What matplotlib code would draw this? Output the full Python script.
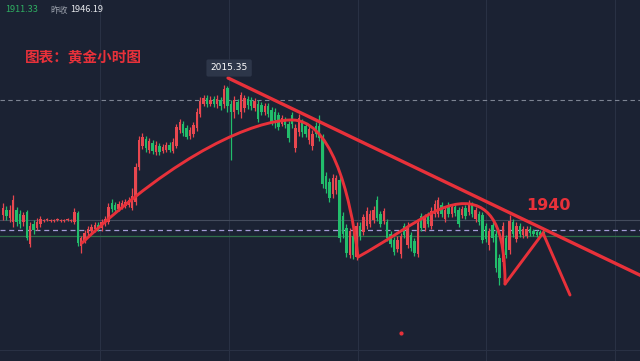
import matplotlib
matplotlib.use('Agg')
import matplotlib.pyplot as plt
from matplotlib.path import Path
from matplotlib.patches import PathPatch
import numpy as np

plt.rcParams['font.family'] = ['Noto Sans CJK SC', 'DejaVu Sans']

# ---------------- data (hourly gold candles) ----------------
opens = [1950.5, 1953, 1949, 1947, 1953, 1951, 1947, 1952, 1936, 1946, 1944, 1946,
         1947.5, 1948, 1947.5, 1947.5, 1948, 1947.5, 1947.5, 1948, 1947.5,
         1947, 1951.5, 1935, 1938, 1941.5, 1942.5, 1943.5, 1945.5, 1944, 1946,
         1947, 1956.5, 1955.5, 1953.5, 1954.5, 1955, 1955.5, 1954, 1957, 1974.5,
         1985, 1988.5, 1983, 1986.5, 1982, 1985, 1982.5, 1983, 1985.5, 1982.5,
         1985, 1993, 1996, 1994, 1990, 1991, 1994, 2001, 2006, 2009,
         2006, 2008.5, 2006, 2008, 2006, 2014, 2006, 2002, 2007, 2002,
         2004, 2008.5, 2008, 2004, 2006, 2005.5, 2002, 2005, 2003, 2002,
         2000.5, 1996, 1998, 1996, 2000.5, 1984, 1992, 1997, 1995, 1988,
         1985, 1995, 1995, 1989, 1970, 1967, 1961, 1963, 1968, 1950,
         1944, 1930.5, 1940, 1929.5, 1945, 1942, 1945, 1946, 1948, 1958,
         1951, 1947.5, 1947, 1941, 1938, 1933.5, 1931, 1945, 1935.5, 1940.5,
         1937.5, 1931, 1950, 1944, 1950.5, 1945, 1951, 1951, 1955.5, 1948.5,
         1955.5, 1951, 1954.5, 1953, 1950.5, 1954, 1952, 1955.5, 1948.5, 1951,
         1950.5, 1945, 1935.5, 1945.5, 1941, 1929, 1927, 1939, 1933, 1947,
         1938.5, 1945, 1940.5, 1940, 1943.5, 1942.5, 1942, 1942, 1941.5]
closes = [1954, 1950, 1953, 1958, 1947, 1946, 1950.5, 1939, 1945, 1943, 1947, 1948.5,
          1948, 1948.5, 1948, 1948, 1948.5, 1948, 1948, 1948.5, 1948,
          1952, 1936.5, 1939, 1941.5, 1943.5, 1944.5, 1945.5, 1944, 1947, 1948.5,
          1954.5, 1953.5, 1953, 1956, 1956.5, 1957, 1958, 1960, 1974.5, 1988,
          1989.5, 1984, 1987.5, 1982.5, 1985.5, 1982, 1984.5, 1985.5, 1983, 1987,
          1994.5, 1997, 1991.5, 1989.5, 1993, 1995.5, 2002, 2007.5, 2009, 2006,
          2008, 2006, 2008.5, 2005, 2013.5, 2005, 2002, 2008, 2003, 2010.5,
          2009, 2005.5, 2005, 2007.5, 1998.5, 2002, 2005, 2001, 1997, 1998,
          1994.5, 1999, 1995.5, 1989, 1996, 1994, 1999, 1992, 1991, 1993.5,
          1991, 1991, 1989, 1966, 1963.5, 1959, 1969, 1969, 1939, 1941,
          1931.5, 1942.5, 1930.5, 1945, 1940, 1949.5, 1952.5, 1951, 1953, 1949,
          1946, 1952.5, 1939, 1936, 1932, 1938, 1940, 1940.5, 1945, 1934,
          1931.5, 1946.5, 1944, 1949.5, 1946, 1952.5, 1956, 1958, 1951, 1953,
          1951, 1954.5, 1951.5, 1946, 1953.5, 1950, 1956, 1951, 1953, 1947,
          1938, 1938.5, 1942.5, 1939, 1924, 1919, 1945, 1930.5, 1947.5, 1941,
          1945, 1941, 1943.5, 1943.5, 1941.5, 1941, 1940.5, 1940.5, 1940]
highs = [1956.5, 1955, 1955.5, 1960.5, 1954.5, 1953, 1952, 1953, 1947, 1948, 1949, 1950,
         1948.5, 1949, 1948.5, 1948.5, 1949, 1948.5, 1948.5, 1949, 1948.5,
         1954, 1952.5, 1940, 1943, 1945, 1946, 1947, 1947, 1948.5, 1950,
         1956.5, 1958.5, 1957, 1957.5, 1958, 1958.5, 1959.5, 1964, 1976.5, 1990,
         1991.5, 1990, 1989, 1988, 1987.5, 1986.5, 1986, 1987, 1987, 1989,
         1996, 1998.5, 1997.5, 1995.5, 1994.5, 1997, 2004, 2009.5, 2010.5, 2010.5,
         2010, 2010, 2010.5, 2009.5, 2015.35, 2015, 2008, 2010, 2008.5, 2012,
         2010.5, 2010, 2009.5, 2009, 2008, 2007, 2006.5, 2006.5, 2004.5, 2004,
         2002, 2000.5, 1999.5, 1997.5, 2002, 1996, 2001, 1998.5, 1996.5, 1995.5,
         1993, 1997, 2000.5, 1991, 1972, 1969, 1971, 1970.5, 1970, 1952,
         1946, 1944, 1942, 1947, 1947, 1951, 1954.5, 1953, 1955, 1960,
         1952.5, 1954, 1948.5, 1942.5, 1939.5, 1940, 1941.5, 1946.5, 1947, 1942,
         1939, 1948.5, 1951.5, 1951, 1952, 1954.5, 1958, 1959.5, 1957, 1955,
         1957, 1956, 1956, 1954.5, 1955, 1955.5, 1958, 1957, 1954.5, 1952.5,
         1952, 1946.5, 1944, 1947, 1943, 1931, 1947, 1940.5, 1950.5, 1948.5,
         1947, 1946.5, 1945, 1945, 1945, 1943.5, 1943, 1943, 1942.5]
lows = [1948, 1948, 1947, 1944.5, 1945, 1944, 1945, 1938, 1934.5, 1941, 1943, 1944.5,
        1947, 1947.5, 1947, 1947, 1947.5, 1947, 1947, 1947.5, 1947,
        1946, 1935, 1931.5, 1936.5, 1940, 1941, 1942, 1942.5, 1942.5, 1945,
        1946, 1952, 1951.5, 1952.5, 1953.5, 1954, 1954.5, 1953, 1955.5, 1973,
        1983.5, 1982, 1981.5, 1981, 1980.5, 1980.5, 1981.5, 1982, 1982, 1981.5,
        1984, 1991.5, 1990, 1988.5, 1988.5, 1989.5, 1992.5, 1999.5, 2005, 2004.5,
        2005, 2004.5, 2004, 2003, 2004, 2002, 1978, 1999, 2001, 1999,
        2002, 2003.5, 2003, 2002.5, 1997, 2000.5, 2000.5, 1999.5, 1995.5, 1994,
        1993, 1995, 1994, 1987, 1994, 1982, 1990, 1989.5, 1989.5, 1986,
        1983, 1989.5, 1987.5, 1964, 1961.5, 1957, 1959, 1961, 1937, 1939,
        1929.5, 1929, 1928.5, 1928, 1938, 1940.5, 1943.5, 1944.5, 1946.5, 1947.5,
        1944.5, 1946, 1937.5, 1934.5, 1930.5, 1932, 1929, 1939, 1934, 1932.5,
        1930, 1929.5, 1942.5, 1942.5, 1944.5, 1943.5, 1949.5, 1949.5, 1949.5, 1947,
        1949.5, 1949.5, 1950, 1944.5, 1949, 1948.5, 1950.5, 1949.5, 1947, 1945.5,
        1936.5, 1937, 1933, 1937, 1922, 1915.5, 1925, 1929, 1931, 1939.5,
        1937, 1939.5, 1939, 1939, 1940, 1940, 1939.5, 1939.5, 1939.5]

# reference price lines
level_dashed_top = 2008
level_grey = 1948
level_dashed_cur = 1943
level_green = 1940
level_bottom = 1883

# vertical grid positions (candle index)
grid_x = [28.5, 66.5, 104.4, 142.1, 180.0]

# hand-drawn annotation points (candle index, price)
trend_x = [66.2, 188.8]
trend_p = [2019, 1919.25]
arc1_x = [23.24, 52.06, 74.12, 84.41, 96.18, 102.06, 104.41]
arc1_p = [1936.5, 1983, 1997.5, 1998, 1999, 1963, 1929.5]
arc2_x = [104.41, 119.71, 128.53, 137.35, 144.71, 147.65, 147.65]
arc2_p = [1929.5, 1944, 1958, 1956, 1954, 1940.5, 1916]
zig_x = [147.65, 158.82, 166.76]
zig_p = [1916, 1941.5, 1910.5]
dot_x, dot_p = 117, 1891.5

n = len(opens)
for name, arr in (('closes', closes), ('highs', highs), ('lows', lows)):
    if len(arr) != n:
        raise ValueError(f'{name} has {len(arr)} items, opens has {n}')

# ---------------- figure ----------------
BG = '#1b2233'
UP = '#e8474f'
DOWN = '#22bd6b'
ANN = '#e8313a'

fig = plt.figure(figsize=(6.4, 3.61), dpi=100, facecolor=BG)
ax = fig.add_axes([0, 0, 1, 1])
ax.set_facecolor(BG)
ax.set_xlim(-0.882, 187.35)
ax.set_ylim(1877.5, 2058)
for s in ax.spines.values():
    s.set_visible(False)
ax.set_xticks([])
ax.set_yticks([])

for gx in grid_x:
    ax.axvline(gx, color='#293144', lw=0.8, zorder=0)

ax.axhline(level_dashed_top, color='#7d8493', lw=0.8, ls=(0, (4, 3)), zorder=1)
ax.axhline(level_grey, color='#434b5c', lw=0.8, zorder=1)
ax.axhline(level_dashed_cur, color='#a49bd6', lw=0.9, ls=(0, (4, 3)), zorder=1)
ax.axhline(level_green, color='#2f6e4a', lw=0.9, zorder=1)
ax.axhline(level_bottom, color='#293144', lw=0.8, zorder=0)

o = np.array(opens); c = np.array(closes); h = np.array(highs); l = np.array(lows)
xs = np.arange(n)
up = c >= o
cols = np.where(up, UP, DOWN)
ax.vlines(xs, l, h, colors=cols, lw=0.9, zorder=2)
body_bottom = np.minimum(o, c)
body_h = np.maximum(np.abs(c - o), 0.5)
ax.bar(xs, body_h, bottom=body_bottom, width=0.74, color=cols, zorder=3, linewidth=0)

# annotations
ax.plot(trend_x, trend_p, color=ANN, lw=2.4, solid_capstyle='round', zorder=5)
codes = [Path.MOVETO] + [Path.CURVE4] * 6
for xs_, ps_ in ((arc1_x, arc1_p), (arc2_x, arc2_p)):
    path = Path(list(zip(xs_, ps_)), codes)
    ax.add_patch(PathPatch(path, fill=False, edgecolor=ANN, lw=2.1, capstyle='round', zorder=5))
ax.plot(zig_x, zig_p, color=ANN, lw=2.1, solid_joinstyle='miter', solid_capstyle='round', zorder=5)
ax.plot([dot_x], [dot_p], 'o', color=ANN, ms=2, zorder=5)

ax.text(160.3, 1955, '1940', color=ANN, fontsize=11.5, fontweight='bold',
        ha='center', va='center', family=['DejaVu Sans'], zorder=6)
ax.text(6.5, 2029.5, '图表：黄金小时图', color=ANN, fontsize=10.5, fontweight='bold',
        ha='left', va='center', zorder=6)

ax.text(66.5, 2024, '2015.35', color='white', fontsize=6.5, ha='center', va='center',
        family=['DejaVu Sans'],
        bbox=dict(boxstyle='round,pad=0.45,rounding_size=0.2', fc='#2d3649', ec='none'), zorder=6)

fig.text(5/640, 1-10/361, '1911.33', color='#2fae62', fontsize=6.6, ha='left', va='center')
fig.text(50/640, 1-10/361, '昨收', color='#9aa0ab', fontsize=6.3, ha='left', va='center')
fig.text(70/640, 1-10/361, '1946.19', color='#e6e8ec', fontsize=6.6, ha='left', va='center')

fig.savefig('out.png', dpi=100, facecolor=BG)
